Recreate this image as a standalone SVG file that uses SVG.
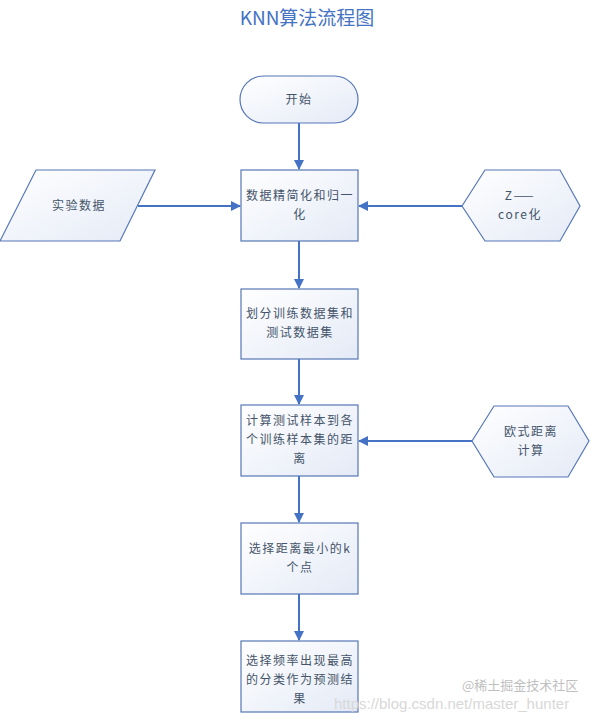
<svg xmlns="http://www.w3.org/2000/svg" width="591" height="714" viewBox="0 0 591 714">
<defs>
<linearGradient id="g" x1="0" y1="0" x2="1" y2="1">
<stop offset="0" stop-color="#ffffff"/>
<stop offset="1" stop-color="#e4eaf6"/>
</linearGradient>
<marker id="ah" viewBox="0 0 10 10" refX="9" refY="5" markerWidth="10" markerHeight="10" markerUnits="userSpaceOnUse" orient="auto">
<path d="M0,0 L10,5 L0,10 Z" fill="#4472c4"/>
</marker>
<style>
.n{fill:url(#g);stroke:#5677b6;stroke-width:1.2}
.t{font-family:"Noto Sans CJK SC","Noto Sans",sans-serif;font-size:12px;letter-spacing:1.5px;fill:#44546a;text-anchor:middle}
.c{stroke:#4472c4;stroke-width:2;fill:none;marker-end:url(#ah)}
.w{font-family:"Liberation Sans",Arial,sans-serif;font-size:15px;fill:#d8d8d8}
</style>
</defs>
<rect width="591" height="714" fill="#ffffff"/>
<text x="307" y="25" font-family="'Noto Sans CJK SC','Noto Sans',sans-serif" font-size="19" fill="#4472c4" text-anchor="middle">KNN算法流程图</text>
<g id="connectors">
<line class="c" x1="299" y1="123" x2="299" y2="169"/>
<line class="c" x1="138" y1="206" x2="240" y2="206"/>
<line class="c" x1="462" y1="206" x2="359" y2="206"/>
<line class="c" x1="299" y1="241" x2="299" y2="288"/>
<line class="c" x1="299" y1="359" x2="299" y2="404"/>
<line class="c" x1="472" y1="441" x2="359" y2="441"/>
<line class="c" x1="299" y1="476" x2="299" y2="522"/>
<line class="c" x1="299" y1="594" x2="299" y2="640"/>
</g>
<g id="start">
<rect class="n" x="240" y="76" width="118" height="47" rx="23.5"/>
<text class="t" x="299" y="104">开始</text>
</g>
<g id="data">
<polygon class="n" points="36,170 155,170 120,241 0,241"/>
<text class="t" x="79" y="210">实验数据</text>
</g>
<g id="zscore">
<polygon class="n" points="462,206 485,170 560,170 580,206 560,241 485,241"/>
<text class="t" x="520" y="200">Z——</text>
<text class="t" x="520" y="219">core化</text>
</g>
<g id="step1">
<rect class="n" x="241" y="170" width="117" height="71"/>
<text class="t" x="300" y="200">数据精简化和归一</text>
<text class="t" x="300" y="219">化</text>
</g>
<g id="step2">
<rect class="n" x="241" y="289" width="117" height="70"/>
<text class="t" x="300" y="318">划分训练数据集和</text>
<text class="t" x="300" y="337">测试数据集</text>
</g>
<g id="euclid">
<polygon class="n" points="472,441 494,406 568,406 589,441 568,477 494,477"/>
<text class="t" x="531" y="436">欧式距离</text>
<text class="t" x="531" y="455">计算</text>
</g>
<g id="step3">
<rect class="n" x="241" y="405" width="117" height="71"/>
<text class="t" x="300" y="425">计算测试样本到各</text>
<text class="t" x="300" y="444">个训练样本集的距</text>
<text class="t" x="300" y="463">离</text>
</g>
<g id="step4">
<rect class="n" x="241" y="523" width="117" height="71"/>
<text class="t" x="300" y="553">选择距离最小的k</text>
<text class="t" x="300" y="572">个点</text>
</g>
<g id="step5">
<rect class="n" x="241" y="641" width="117" height="71"/>
<text class="t" x="300" y="665">选择频率出现最高</text>
<text class="t" x="300" y="684">的分类作为预测结</text>
<text class="t" x="300" y="703">果</text>
</g>
<text class="w" x="334" y="709">https://blog.csdn.net/master_hunter</text>
<text x="462" y="690" font-family="'Noto Sans CJK SC',sans-serif" font-size="13" fill="#bfbfbf">@稀土掘金技术社区</text>
</svg>
